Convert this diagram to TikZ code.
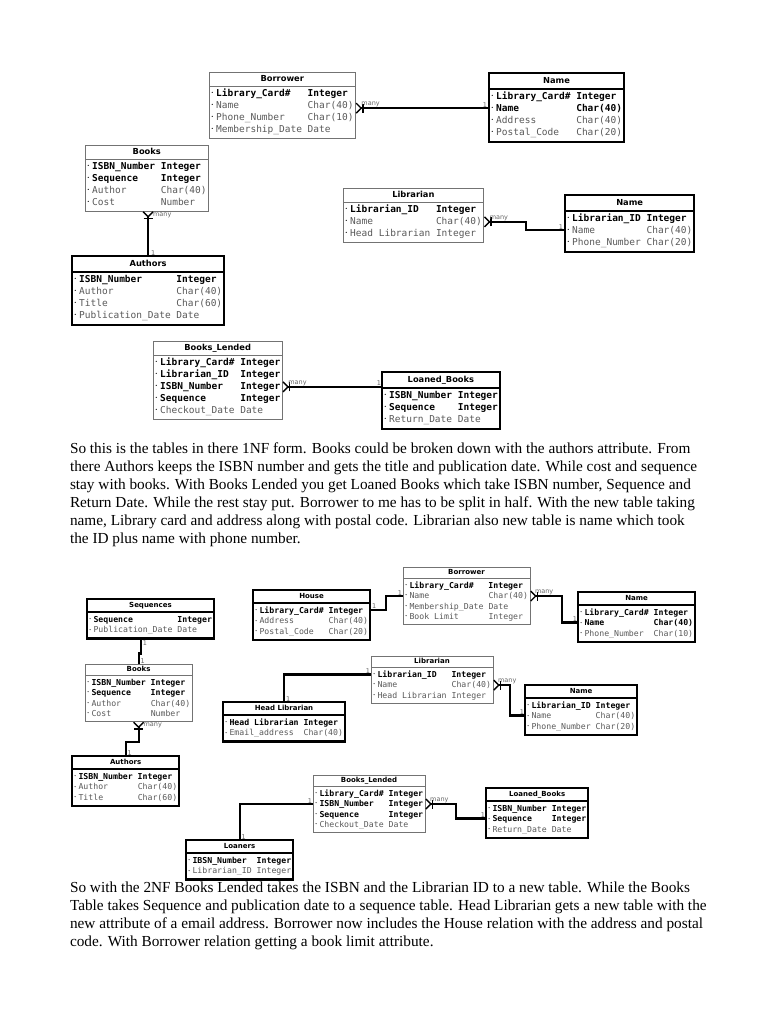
\documentclass[tikz,border=0pt]{standalone}
\usepackage{fontspec}
\usepackage{graphicx}
\setmainfont{Liberation Serif}
\newfontfamily\tblfont{DejaVu Sans Mono}
\newfontfamily\hdrfont{DejaVu Sans}
\usetikzlibrary{arrows.meta,shapes.multipart}

% rows of a relation: key row (bold) / plain row
\newcommand\rowdot{\makebox[0.55em][l]{\raisebox{.35ex}{\scalebox{.45}{\textbullet}}}}
\newcommand\kr[2]{\rowdot\textbf{#1} & \textbf{#2}\\}
\newcommand\nr[2]{\rowdot\textcolor{black!65}{#1} & \textcolor{black!65}{#2}\\}
\newcommand\rows[1]{\begin{tabular}{@{}l@{\ }l@{}}#1\end{tabular}}
\newcommand\ttl[1]{\rule[-\tdp]{0pt}{\tht}{\hdrfont\bfseries\fontsize{\hsz}{\hsz}\selectfont#1}}

\begin{document}
\begin{tikzpicture}[x=1pt, y=-1pt,
    every node/.style={outer sep=0pt},
    tbl/.style ={rectangle split, rectangle split parts=2, rectangle split draw splits,
                 anchor=north west, inner xsep=2pt, inner ysep=1.5pt},
    nfa/.style ={tbl, font=\tblfont\fontsize{9.5}{12}\selectfont
                 \def\hsz{8.3}\def\tht{10.5pt}\def\tdp{3pt}},
    nfb/.style ={tbl, font=\tblfont\fontsize{8.2}{10.5}\selectfont
                 \def\hsz{7}\def\tht{8pt}\def\tdp{2.2pt}},
    thin/.style ={draw=black!55, line width=.8pt},
    thick/.style={draw=black, line width=2.2pt},
    rel/.style  ={draw=black, line width=2.2pt},
    many/.style ={rel, -{Bar[width=9pt,line width=1.4pt]Straight Barb[reversed,length=5pt,width=10pt,line width=1.4pt]}},
    lbl/.style  ={font=\hdrfont\fontsize{6.5}{6.5}\selectfont, text=black!60, inner sep=0pt},
    para/.style ={anchor=north west, align=left, inner sep=0pt,
                  font=\fontsize{15.3}{18}\selectfont}]

\useasboundingbox (0,0) rectangle (768,1024);

% ── 1NF relations ──────────────────────────────────────────────────────
\node[nfa, thin] (brwA) at (209,72) {\ttl{Borrower}\nodepart{two}\rows{%
  \kr{Library\_Card\#}{Integer}\nr{Name}{Char(40)}\nr{Phone\_Number}{Char(10)}%
  \nr{Membership\_Date}{Date}}};
\node[nfa, thick] (nmA) at (489,73) {\ttl{Name}\nodepart{two}\rows{%
  \kr{Library\_Card\#}{Integer}\kr{Name}{Char(40)}\nr{Address}{Char(40)}%
  \nr{Postal\_Code}{Char(20)}}};
\node[nfa, thin] (bkA) at (85,145) {\ttl{Books}\nodepart{two}\rows{%
  \kr{ISBN\_Number}{Integer}\kr{Sequence}{Integer}\nr{Author}{Char(40)}\nr{Cost}{Number}}};
\node[nfa, thick] (auA) at (72,256) {\ttl{Authors}\nodepart{two}\rows{%
  \kr{ISBN\_Number}{Integer}\nr{Author}{Char(40)}\nr{Title}{Char(60)}%
  \nr{Publication\_Date}{Date}}};
\node[nfa, thin] (libA) at (343,188) {\ttl{Librarian}\nodepart{two}\rows{%
  \kr{Librarian\_ID}{Integer}\nr{Name}{Char(40)}\nr{Head Librarian}{Integer}}};
\node[nfa, thick] (lnmA) at (565,195) {\ttl{Name}\nodepart{two}\rows{%
  \kr{Librarian\_ID}{Integer}\nr{Name}{Char(40)}\nr{Phone\_Number}{Char(20)}}};
\node[nfa, thin] (blA) at (153,341) {\ttl{Books\_Lended}\nodepart{two}\rows{%
  \kr{Library\_Card\#}{Integer}\kr{Librarian\_ID}{Integer}\kr{ISBN\_Number}{Integer}%
  \kr{Sequence}{Integer}\nr{Checkout\_Date}{Date}}};
\node[nfa, thick] (lbA) at (382,372) {\ttl{Loaned\_Books}\nodepart{two}\rows{%
  \kr{ISBN\_Number}{Integer}\kr{Sequence}{Integer}\nr{Return\_Date}{Date}}};

\coordinate (nmA-r2)  at ([yshift=-19.5pt]nmA.one split west);
\coordinate (lnmA-r2) at ([yshift=-19.5pt]lnmA.one split west);
\coordinate (blA-r3)  at ([yshift=-31.5pt]blA.one split east);

\draw[many] (nmA-r2) node[lbl, anchor=south east, xshift=-2pt, yshift=1pt] (nmA-1) {1}
  -- (nmA-r2 -| brwA.east) node[lbl, anchor=south west, xshift=6pt, yshift=1pt] (brwA-m) {many};
\draw[many] (auA.north) node[lbl, anchor=south west, xshift=3pt, yshift=1pt] (auA-1) {1}
  -- (auA.north |- bkA.south) node[lbl, anchor=north west, xshift=5pt, yshift=-2pt] (bkA-m) {many};
\draw[many] (lnmA-r2) node[lbl, anchor=south east, xshift=-2pt, yshift=1pt] (lnmA-1) {1}
  -- ++(-39,0) |- ([yshift=-19.5pt]libA.one split east)
  node[lbl, anchor=south west, xshift=6pt, yshift=1pt] (libA-m) {many};
\draw[many] (lbA.west |- blA-r3) node[lbl, anchor=south east, xshift=-1pt, yshift=1pt] (lbA-1) {1}
  -- (blA-r3) node[lbl, anchor=south west, xshift=6pt, yshift=1pt] (blA-m) {many};

\node[para] (txtA) at (70,443) {So this is the tables in there 1NF form. Books could be broken down with the authors attribute. From\\
there Authors keeps the ISBN number and gets the title and publication date. While cost and sequence\\
stay with books. With Books Lended you get Loaned Books which take ISBN number, Sequence and\\
Return Date. While the rest stay put. Borrower to me has to be split in half. With the new table taking\\
name, Library card and address along with postal code. Librarian also new table is name which took\\
the ID plus name with phone number.};

% ── 2NF relations ──────────────────────────────────────────────────────
\node[nfb, thick] (seqB) at (87,599) {\ttl{Sequences}\nodepart{two}\rows{%
  \kr{Sequence}{Integer}\nr{Publication\_Date}{Date}}};
\node[nfb, thin] (bkB) at (85,664) {\ttl{Books}\nodepart{two}\rows{%
  \kr{ISBN\_Number}{Integer}\kr{Sequence}{Integer}\nr{Author}{Char(40)}\nr{Cost}{Number}}};
\node[nfb, thick] (auB) at (72,756) {\ttl{Authors}\nodepart{two}\rows{%
  \kr{ISBN\_Number}{Integer}\nr{Author}{Char(40)}\nr{Title}{Char(60)}}};
\node[nfb, thick] (hsB) at (253,590) {\ttl{House}\nodepart{two}\rows{%
  \kr{Library\_Card\#}{Integer}\nr{Address}{Char(40)}\nr{Postal\_Code}{Char(20)}}};
\node[nfb, thin] (brwB) at (403,567) {\ttl{Borrower}\nodepart{two}\rows{%
  \kr{Library\_Card\#}{Integer}\nr{Name}{Char(40)}\nr{Membership\_Date}{Date}%
  \nr{Book Limit}{Integer}}};
\node[nfb, thick] (nmB) at (578,592) {\ttl{Name}\nodepart{two}\rows{%
  \kr{Library\_Card\#}{Integer}\kr{Name}{Char(40)}\nr{Phone\_Number}{Char(10)}}};
\node[nfb, thin] (libB) at (371,656) {\ttl{Librarian}\nodepart{two}\rows{%
  \kr{Librarian\_ID}{Integer}\nr{Name}{Char(40)}\nr{Head Librarian}{Integer}}};
\node[nfb, thick] (hlB) at (223,702) {\ttl{Head Librarian}\nodepart{two}\rows{%
  \kr{Head Librarian}{Integer}\nr{Email\_address}{Char(40)}}};
\node[nfb, thick] (lnmB) at (525,685) {\ttl{Name}\nodepart{two}\rows{%
  \kr{Librarian\_ID}{Integer}\nr{Name}{Char(40)}\nr{Phone\_Number}{Char(20)}}};
\node[nfb, thin] (blB) at (313,775) {\ttl{Books\_Lended}\nodepart{two}\rows{%
  \kr{Library\_Card\#}{Integer}\kr{ISBN\_Number}{Integer}\kr{Sequence}{Integer}%
  \nr{Checkout\_Date}{Date}}};
\node[nfb, thick] (lbB) at (486,788) {\ttl{Loaned\_Books}\nodepart{two}\rows{%
  \kr{ISBN\_Number}{Integer}\kr{Sequence}{Integer}\nr{Return\_Date}{Date}}};
\node[nfb, thick] (lnB) at (186,840) {\ttl{Loaners}\nodepart{two}\rows{%
  \kr{IBSN\_Number}{Integer}\nr{Librarian\_ID}{Integer}}};

\coordinate (hsB-r1)  at ([yshift=-6.75pt]hsB.one split east);
\coordinate (nmB-r2)  at ([yshift=-17.25pt]nmB.one split west);
\coordinate (lnmB-r2) at ([yshift=-17.25pt]lnmB.one split west);
\coordinate (lbB-r2)  at ([yshift=-17.25pt]lbB.one split west);

\draw[rel] ([xshift=-9.5pt]seqB.south) node[lbl, anchor=north west, xshift=2pt, yshift=-2pt] (seqB-1) {1}
  -- ++(0,15) -| (bkB.north) node[lbl, anchor=south west, xshift=2pt, yshift=1pt] (bkB-1) {1};
\draw[many] (auB.north) node[lbl, anchor=south west, xshift=2pt, yshift=1pt] (auB-1) {1}
  -- ++(0,-14) -| (bkB.south) node[lbl, anchor=north west, xshift=5pt, yshift=-1pt] (bkB-m) {many};
\draw[rel] (hsB-r1) node[lbl, anchor=south west, xshift=2pt, yshift=1pt] (hsB-1) {1}
  -- ++(16,0) |- ([yshift=-17.25pt]brwB.one split west)
  node[lbl, anchor=south east, xshift=-1pt, yshift=1pt] (brwB-1) {1};
\draw[many] (nmB-r2) node[lbl, anchor=south east, xshift=-1pt, yshift=1pt] (nmB-1) {1}
  -- ++(-16,0) |- ([yshift=-17.25pt]brwB.one split east)
  node[lbl, anchor=south west, xshift=5pt, yshift=1pt] (brwB-m) {many};
\draw[rel] (hlB.north) node[lbl, anchor=south west, xshift=2pt, yshift=1pt] (hlB-1) {1}
  |- ([yshift=-6.75pt]libB.one split west) node[lbl, anchor=south east, xshift=-1pt, yshift=1pt] (libB-1) {1};
\draw[many] (lnmB-r2) node[lbl, anchor=south east, xshift=-1pt, yshift=1pt] (lnmB-1) {1}
  -- ++(-15,0) |- ([yshift=-17.25pt]libB.one split east)
  node[lbl, anchor=south west, xshift=5pt, yshift=1pt] (libB-m) {many};
\draw[many] (lbB-r2) node[lbl, anchor=south east, xshift=-1pt, yshift=1pt] (lbB-1) {1}
  -- ++(-30,0) |- ([yshift=-17.25pt]blB.one split east)
  node[lbl, anchor=south west, xshift=5pt, yshift=1pt] (blB-m) {many};
\draw[rel] (lnB.north) node[lbl, anchor=south west, xshift=2pt, yshift=1pt] (lnB-1) {1}
  |- ([yshift=-17.25pt]blB.one split west) node[lbl, anchor=south east, xshift=-1pt, yshift=1pt] (blB-1) {1};

\node[para] (txtB) at (70,882) {So with the 2NF Books Lended takes the ISBN and the Librarian ID to a new table. While the Books\\
Table takes Sequence and publication date to a sequence table. Head Librarian gets a new table with the\\
new attribute of a email address. Borrower now includes the House relation with the address and postal\\
code. With Borrower relation getting a book limit attribute.};
\end{tikzpicture}
\end{document}
